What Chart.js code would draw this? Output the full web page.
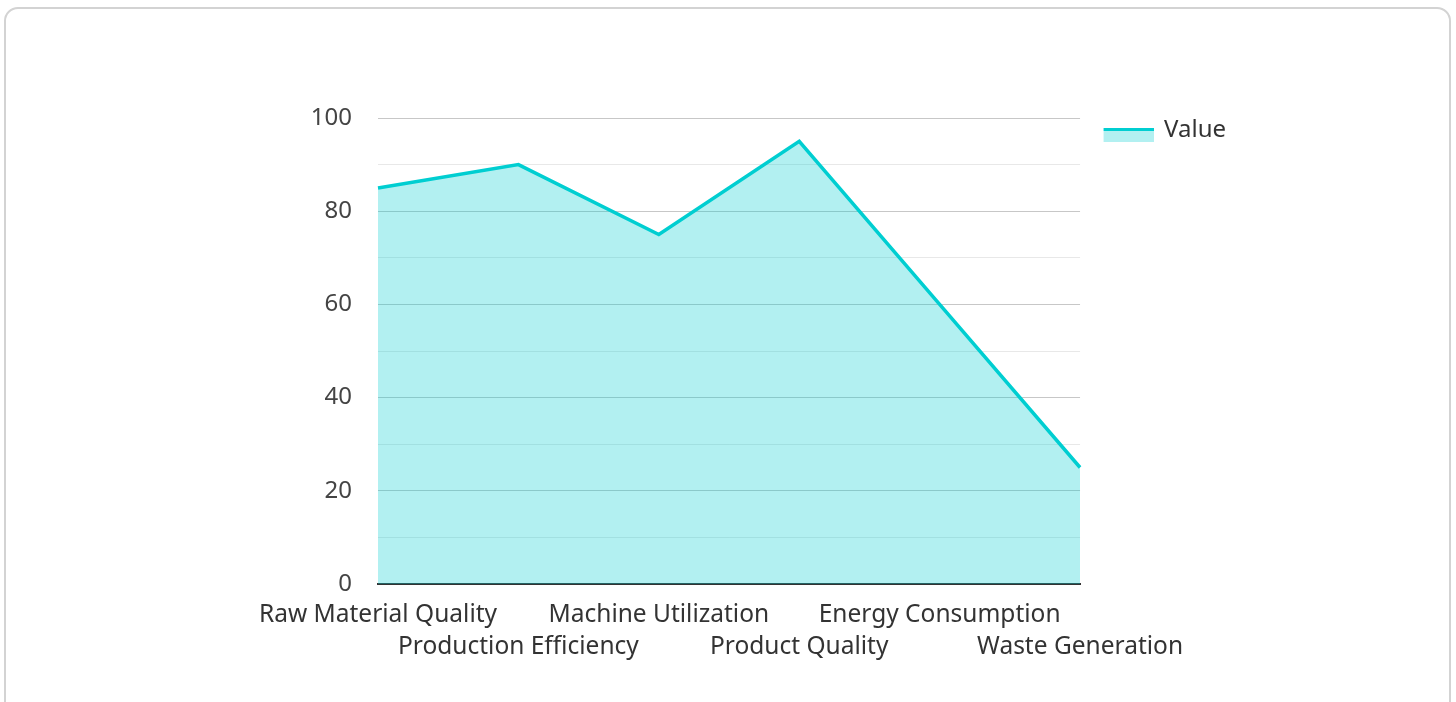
<!DOCTYPE html>
<html>
<head>
<meta charset="utf-8">
<script src="https://cdn.jsdelivr.net/npm/chart.js@4.4.1/dist/chart.umd.min.js"></script>
<style>
  html, body { margin: 0; padding: 0; background: #fff; }
  .card {
    position: absolute; left: 4px; top: 7px; width: 1447px; height: 720px;
    border: 2px solid #d3d3d3; border-radius: 14px; box-sizing: border-box;
  }
  #wrap { position: absolute; left: 0; top: 0; width: 1456px; height: 702px; }
</style>
</head>
<body>
<div class="card"></div>
<div id="wrap"><canvas id="chart"></canvas></div>
<script>
const categories = ['Raw Material Quality', 'Production Efficiency', 'Machine Utilization',
                    'Product Quality', 'Energy Consumption', 'Waste Generation']
const values = [85, 90, 75, 95, 60, 25]
const yTicks = [0, 20, 40, 60, 80, 100]

const lineColor = 'rgb(0, 206, 209)'
const fillColor = 'rgba(0, 206, 209, 0.3)'

// legend swatch: pale fill with the line on top, with a blank gap on its left
let swatch = document.createElement('canvas')
swatch.width = 75
swatch.height = 24
let sctx = swatch.getContext('2d')
sctx.fillStyle = fillColor
sctx.fillRect(25, 10, 50, 14)
sctx.fillStyle = lineColor
sctx.fillRect(25, 10, 50, 3)

Chart.defaults.font.family = '"Noto Sans", "Open Sans", sans-serif'

new Chart(document.getElementById('chart'), {
  type: 'line',
  data: {
    labels: categories,
    datasets: [{
      label: 'Value',
      data: values,
      borderColor: lineColor,
      backgroundColor: fillColor,
      borderWidth: 3.5,
      fill: 'origin',
      tension: 0,
      pointRadius: 0,
      pointStyle: swatch
    }]
  },
  options: {
    responsive: true,
    maintainAspectRatio: false,
    animation: false,
    layout: { padding: { left: 298, right: 220, top: 118, bottom: 38 } },
    plugins: {
      tooltip: { enabled: false },
      legend: {
        position: 'right',
        align: 'start',
        labels: {
          usePointStyle: true,
          pointStyleWidth: 72,
          color: '#333',
          font: { size: 24 },
          padding: 0
        }
      }
    },
    scales: {
      x: {
        z: 1,
        offset: false,
        grid: { display: false, drawTicks: false },
        border: { display: true, color: '#333', width: 2 },
        afterFit: function(scale) {
          scale.height = 80
          scale.paddingLeft = 0
          scale.paddingRight = 0
        },
        ticks: {
          autoSkip: false,
          maxRotation: 0,
          color: '#333',
          font: { size: 24.5, lineHeight: 1.31 },
          padding: 15,
          callback: function(v, i) {
            return i % 2 === 0 ? [categories[i]] : ['', categories[i]]
          }
        }
      },
      y: {
        z: 1,
        min: 0,
        max: 100,
        afterFit: function(scale) {
          scale.width = 80
        },
        grid: {
          drawTicks: false,
          color: ctx => (ctx.tick && ctx.tick.value % 20 === 0) ? 'rgba(0,0,0,0.22)' : 'rgba(0,0,0,0.09)'
        },
        border: { display: false },
        ticks: {
          stepSize: 10,
          color: '#444',
          font: { size: 24 },
          padding: 26,
          callback: v => yTicks.includes(v) ? v : ''
        }
      }
    }
  }
})
</script>
</body>
</html>
